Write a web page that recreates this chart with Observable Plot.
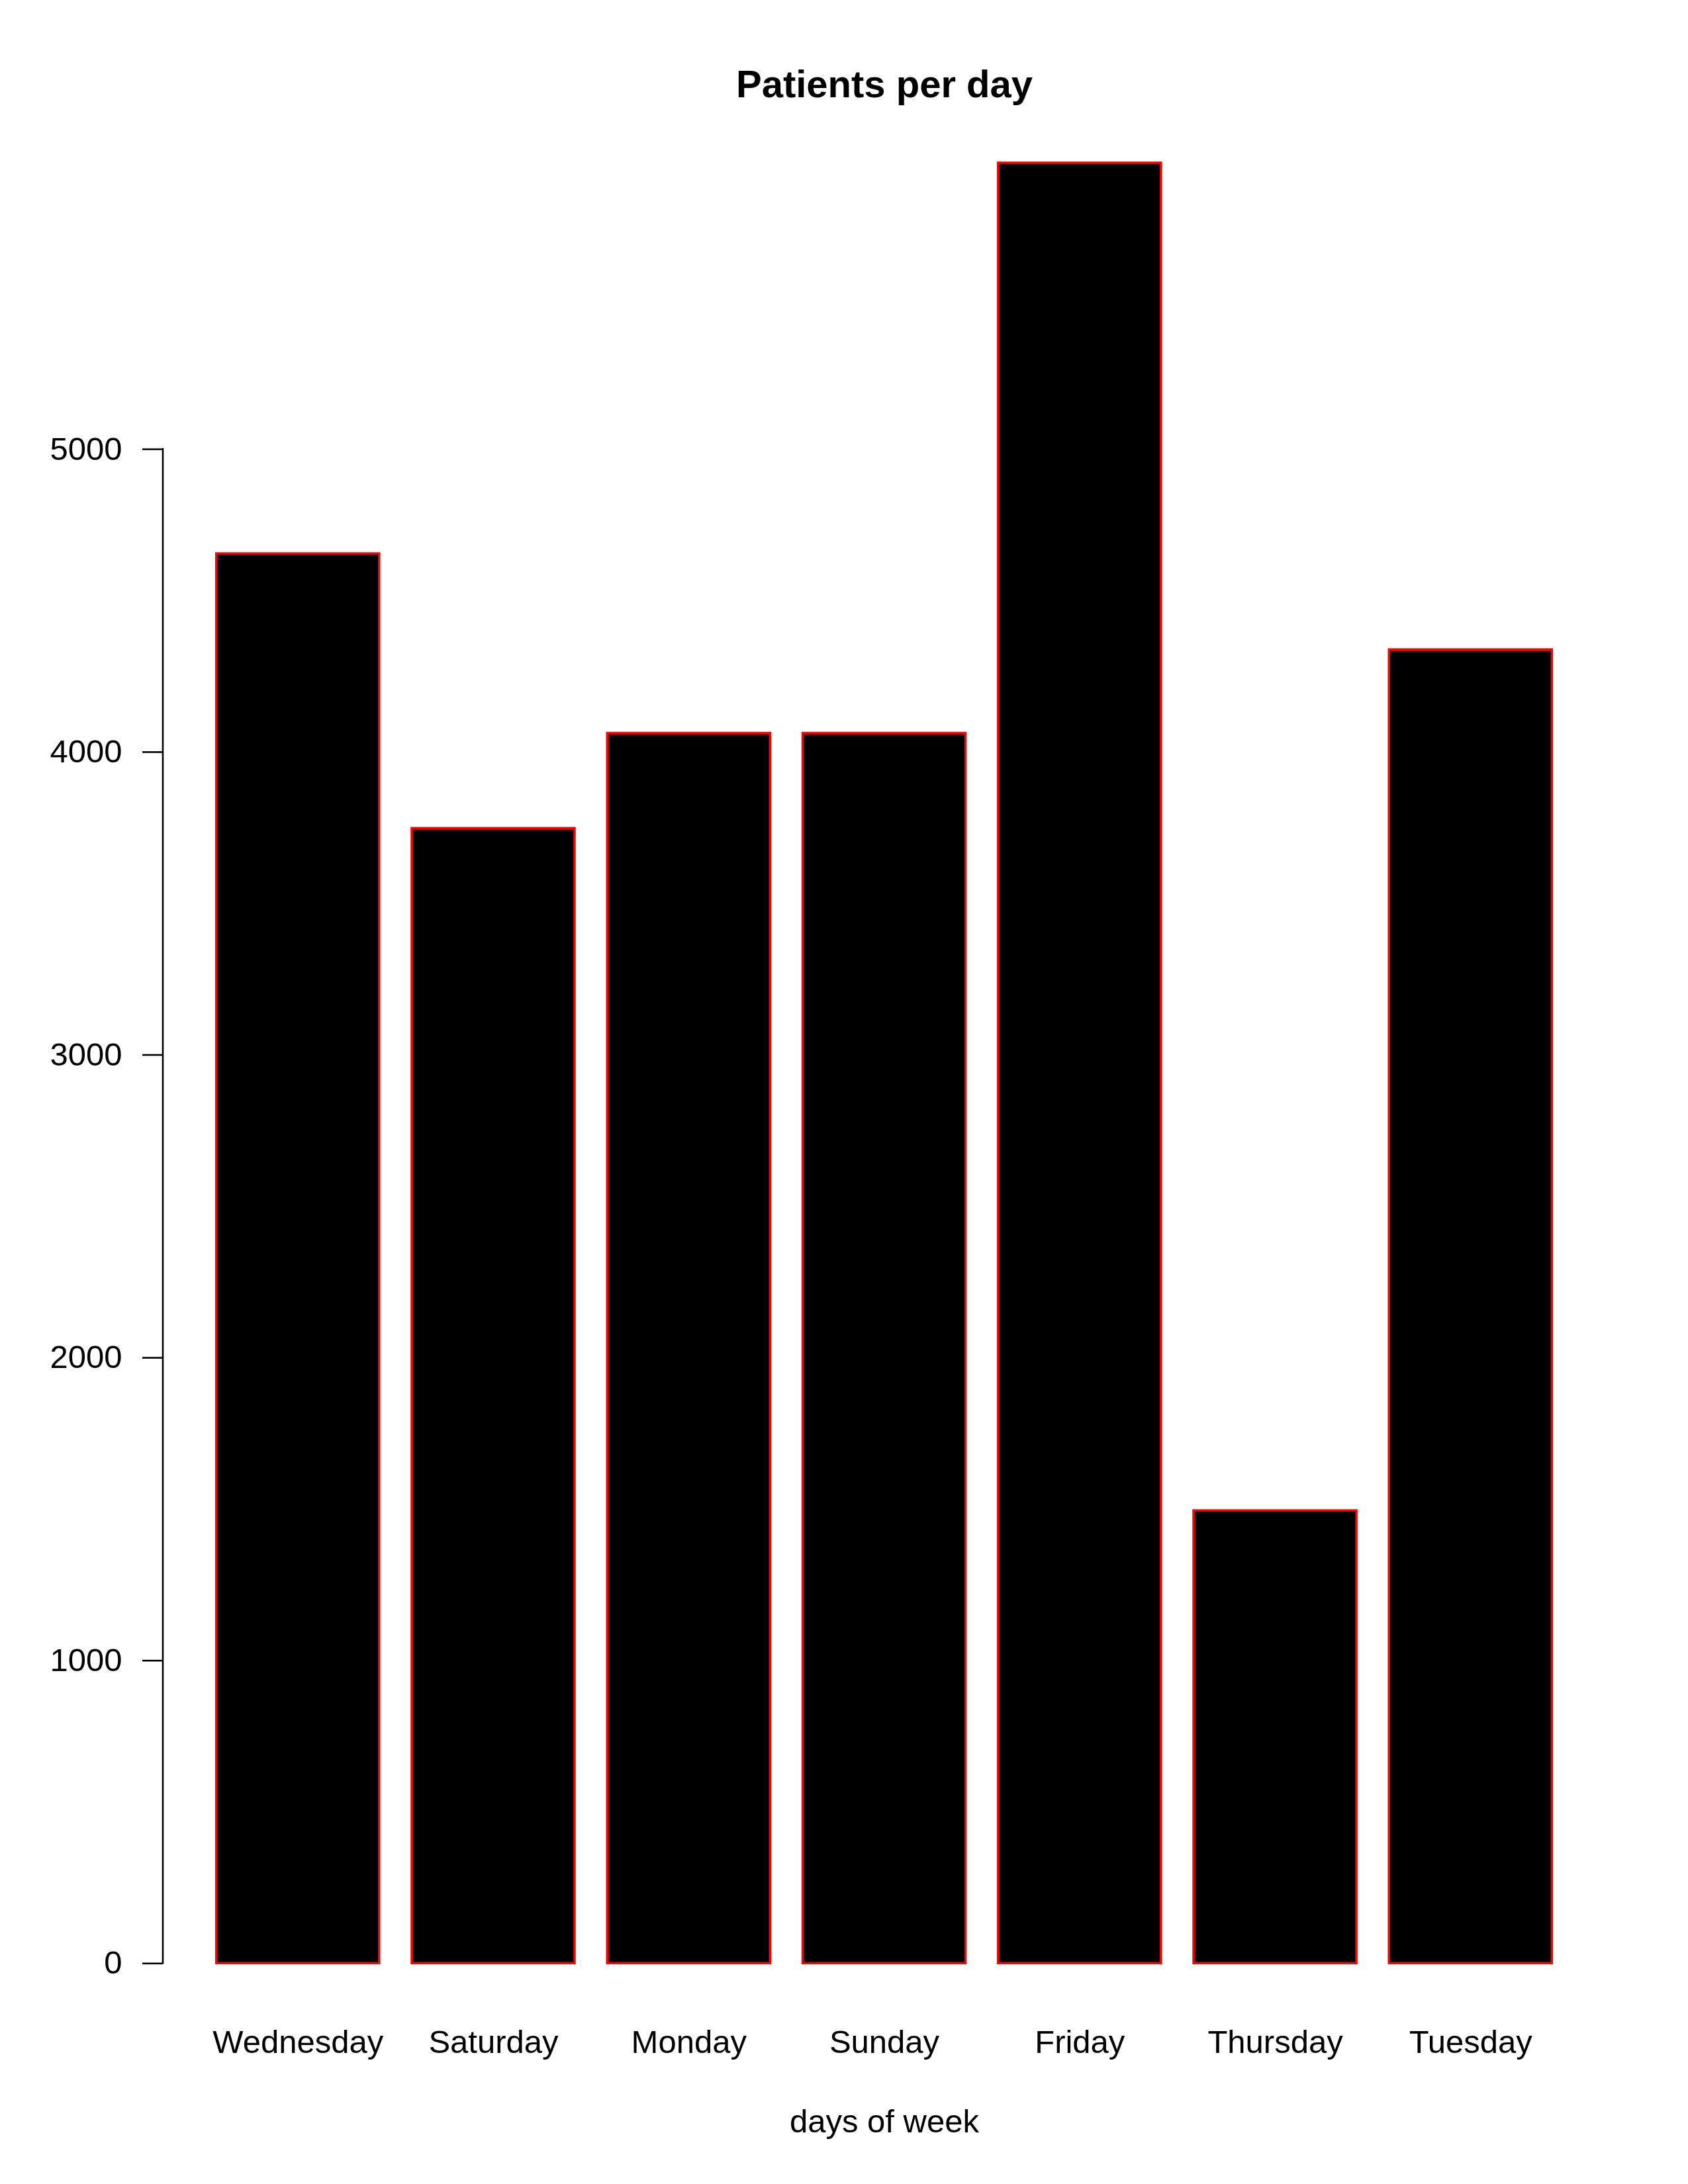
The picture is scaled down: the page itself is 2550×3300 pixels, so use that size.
<!DOCTYPE html>
<html>
<head>
<meta charset="utf-8">
<script src="https://cdn.jsdelivr.net/npm/d3@7"></script>
<script src="https://cdn.jsdelivr.net/npm/@observablehq/plot@0.6"></script>
<style>
  html, body { margin: 0; padding: 0; background: #ffffff; }
  #chart svg { display: block; }
</style>
</head>
<body>
<div id="chart"></div>
<script>
// ---- data ----
const days = ["Wednesday", "Saturday", "Monday", "Sunday", "Friday", "Thursday", "Tuesday"];
const patients = [4655, 3748, 4062, 4062, 5945, 1495, 4338];
const yTicks = [0, 1000, 2000, 3000, 4000, 5000];
const titleText = ["Patients per day"];
const xLabelText = ["days of week"];

const rows = days.map((day, i) => ({day, patients: patients[i]}));

const FONT = "'Liberation Sans', Arial, Helvetica, sans-serif";

// y-axis line from first to last tick (as in base R axis)
function yAxisLine(index, scales, values, dimensions) {
  const y = scales.y;
  const x0 = dimensions.marginLeft;
  const line = document.createElementNS("http://www.w3.org/2000/svg", "line");
  line.setAttribute("x1", x0);
  line.setAttribute("x2", x0);
  line.setAttribute("y1", y(yTicks[0]));
  line.setAttribute("y2", y(yTicks[yTicks.length - 1]));
  line.setAttribute("stroke", "black");
  line.setAttribute("stroke-width", 2.6);
  line.setAttribute("stroke-linecap", "square");
  return line;
}

const chart = Plot.plot({
  width: 2550,
  height: 3300,
  marginLeft: 246,
  marginRight: 125,
  marginTop: 129.2,
  marginBottom: 333.7,
  style: {fontFamily: FONT, background: "#ffffff", color: "black", overflow: "visible"},
  x: {type: "band", domain: days, paddingInner: 1 / 6, paddingOuter: 0.2733, align: 0.5, round: false, axis: null},
  y: {domain: [0, 6200], axis: null},
  marks: [
    Plot.barY(rows, {x: "day", y: "patients", fill: "black", stroke: "#ff0000", strokeWidth: 3.5}),
    Plot.axisY(yTicks, {
      anchor: "left",
      tickSize: 31,
      tickPadding: 31,
      tickFormat: d => String(d),
      fontSize: 49,
      fill: "black",
      stroke: "black",
      strokeWidth: 2.6,
      label: null
    }),
    yAxisLine,
    Plot.axisX({
      anchor: "bottom",
      tickSize: 0,
      tickPadding: 100.7,
      fontSize: 49,
      fill: "black",
      label: null
    }),
    Plot.text(xLabelText, {text: d => d, frameAnchor: "bottom", dy: 255, fontSize: 49, fill: "black"}),
    Plot.text(titleText, {text: d => d, frameAnchor: "top", dy: -24, fontSize: 58, fontWeight: "bold", fill: "black"})
  ]
});

document.getElementById("chart").appendChild(chart);
</script>
</body>
</html>
